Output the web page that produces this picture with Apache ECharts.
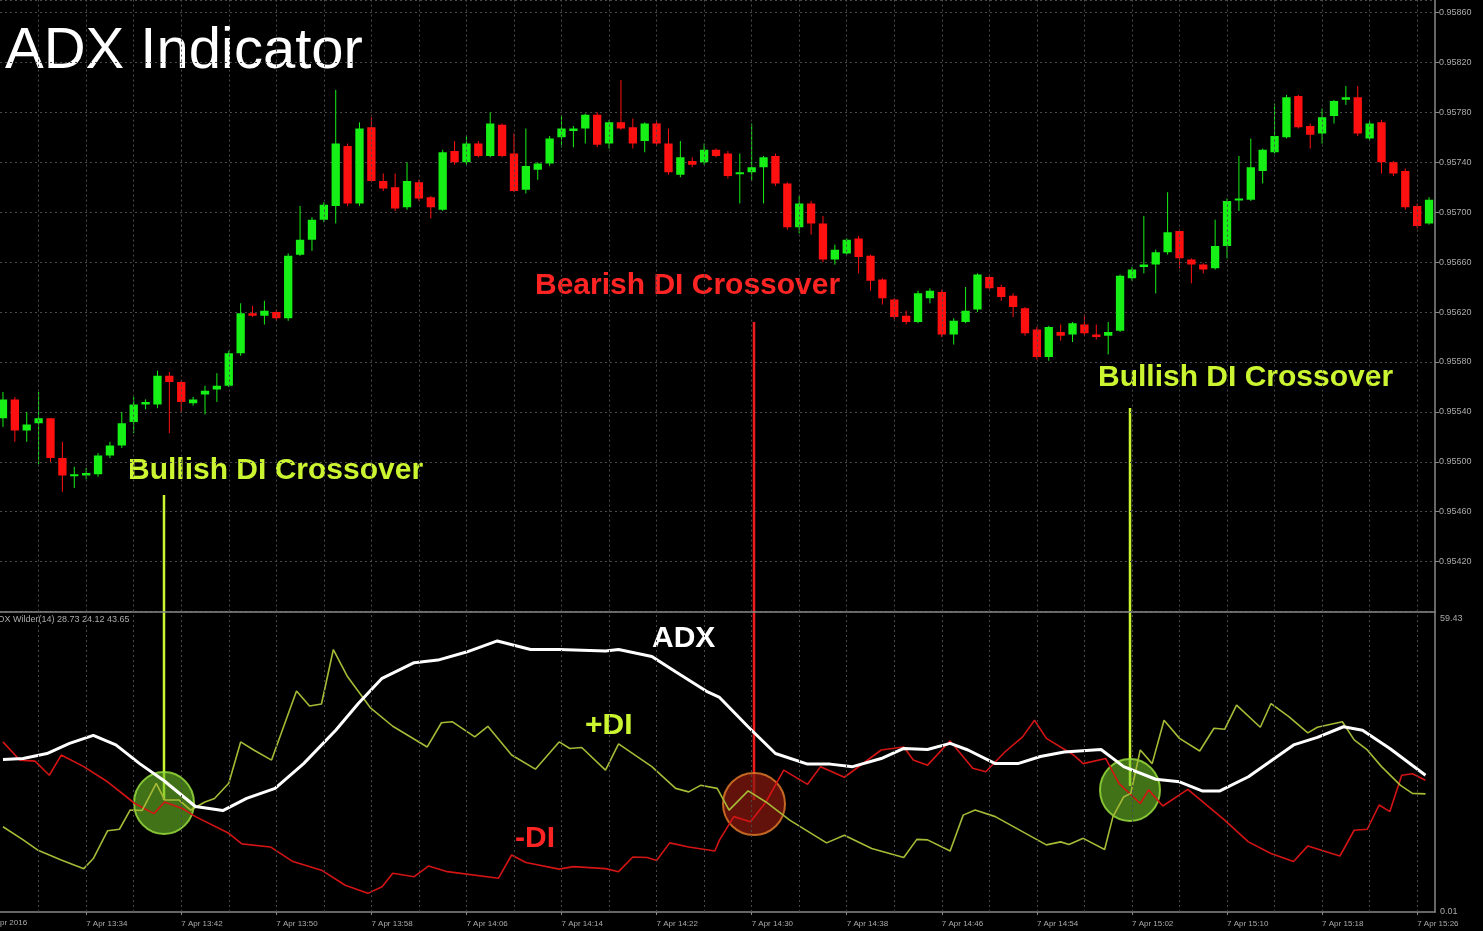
<!DOCTYPE html>
<html><head><meta charset="utf-8">
<script src="https://cdn.jsdelivr.net/npm/echarts@6/dist/echarts.min.js"></script>
<style>html,body{margin:0;padding:0;background:#000;}#c{width:1483px;height:931px;}</style>
</head><body><div id="c"></div>
<script>
const openP=[0.95535,0.95550,0.95525,0.95531,0.95535,0.95503,0.95489,0.95489,0.95490,0.95505,0.95513,0.95532,0.95546,0.95546,0.95569,0.95564,0.95547,0.95554,0.95558,0.95561,0.95587,0.95619,0.95617,0.95620,0.95615,0.95666,0.95678,0.95694,0.95705,0.95753,0.95707,0.95768,0.95725,0.95720,0.95704,0.95724,0.95712,0.95702,0.95749,0.95740,0.95755,0.95745,0.95770,0.95747,0.95718,0.95734,0.95739,0.95760,0.95765,0.95767,0.95778,0.95755,0.95772,0.95768,0.95757,0.95771,0.95755,0.95730,0.95741,0.95740,0.95750,0.95747,0.95731,0.95732,0.95736,0.95745,0.95723,0.95688,0.95707,0.95691,0.95662,0.95667,0.95679,0.95665,0.95646,0.95630,0.95617,0.95612,0.95631,0.95636,0.95602,0.95612,0.95622,0.95648,0.95640,0.95633,0.95623,0.95606,0.95584,0.95604,0.95602,0.95610,0.95602,0.95601,0.95605,0.95647,0.95656,0.95658,0.95668,0.95685,0.95662,0.95658,0.95655,0.95673,0.95710,0.95710,0.95733,0.95748,0.95760,0.95793,0.95769,0.95763,0.95777,0.95790,0.95792,0.95759,0.95772,0.95740,0.95733,0.95705,0.95691];
const closeP=[0.95550,0.95525,0.95530,0.95535,0.95503,0.95489,0.95490,0.95491,0.95505,0.95513,0.95531,0.95546,0.95548,0.95569,0.95564,0.95548,0.95550,0.95557,0.95561,0.95587,0.95619,0.95617,0.95621,0.95615,0.95665,0.95678,0.95694,0.95706,0.95755,0.95707,0.95767,0.95725,0.95719,0.95703,0.95725,0.95711,0.95704,0.95748,0.95740,0.95755,0.95745,0.95771,0.95745,0.95717,0.95737,0.95739,0.95759,0.95767,0.95767,0.95778,0.95754,0.95772,0.95767,0.95755,0.95771,0.95755,0.95732,0.95744,0.95738,0.95750,0.95745,0.95729,0.95732,0.95736,0.95744,0.95723,0.95688,0.95707,0.95691,0.95662,0.95670,0.95678,0.95664,0.95645,0.95631,0.95616,0.95612,0.95635,0.95637,0.95602,0.95613,0.95621,0.95650,0.95639,0.95632,0.95624,0.95603,0.95584,0.95608,0.95601,0.95611,0.95603,0.95600,0.95604,0.95649,0.95654,0.95658,0.95668,0.95684,0.95663,0.95658,0.95654,0.95673,0.95709,0.95711,0.95736,0.95750,0.95761,0.95792,0.95768,0.95762,0.95776,0.95789,0.95792,0.95763,0.95771,0.95740,0.95731,0.95704,0.95689,0.95710];
const lowP=[0.95528,0.95516,0.95516,0.95498,0.95500,0.95476,0.95479,0.95486,0.95488,0.95503,0.95511,0.95523,0.95542,0.95543,0.95523,0.95540,0.95545,0.95538,0.95548,0.95560,0.95585,0.95616,0.95610,0.95613,0.95613,0.95665,0.95669,0.95692,0.95691,0.95705,0.95705,0.95724,0.95717,0.95701,0.95702,0.95709,0.95695,0.95701,0.95738,0.95738,0.95744,0.95744,0.95744,0.95716,0.95715,0.95726,0.95737,0.95752,0.95752,0.95755,0.95752,0.95751,0.95766,0.95751,0.95748,0.95753,0.95730,0.95728,0.95736,0.95738,0.95744,0.95727,0.95707,0.95725,0.95707,0.95721,0.95686,0.95683,0.95682,0.95660,0.95658,0.95666,0.95651,0.95637,0.95626,0.95614,0.95610,0.95611,0.95627,0.95600,0.95594,0.95611,0.95620,0.95638,0.95629,0.95616,0.95601,0.95582,0.95581,0.95597,0.95596,0.95601,0.95598,0.95586,0.95604,0.95645,0.95651,0.95635,0.95666,0.95655,0.95643,0.95651,0.95654,0.95663,0.95701,0.95709,0.95723,0.95747,0.95759,0.95767,0.95751,0.95755,0.95771,0.95786,0.95761,0.95757,0.95731,0.95729,0.95702,0.95687,0.95690];
const highP=[0.95556,0.95552,0.95540,0.95556,0.95535,0.95516,0.95496,0.95495,0.95507,0.95516,0.95540,0.95552,0.95550,0.95573,0.95572,0.95565,0.95552,0.95561,0.95571,0.95589,0.95627,0.95625,0.95629,0.95622,0.95667,0.95705,0.95696,0.95708,0.95798,0.95755,0.95772,0.95776,0.95731,0.95731,0.95740,0.95726,0.95713,0.95750,0.95757,0.95761,0.95757,0.95780,0.95771,0.95763,0.95767,0.95740,0.95761,0.95778,0.95769,0.95779,0.95780,0.95774,0.95806,0.95775,0.95772,0.95773,0.95767,0.95757,0.95744,0.95755,0.95751,0.95749,0.95747,0.95771,0.95745,0.95747,0.95724,0.95713,0.95709,0.95697,0.95674,0.95679,0.95681,0.95666,0.95647,0.95631,0.95621,0.95637,0.95639,0.95638,0.95615,0.95640,0.95651,0.95650,0.95642,0.95635,0.95624,0.95608,0.95609,0.95610,0.95612,0.95618,0.95610,0.95612,0.95650,0.95656,0.95697,0.95670,0.95716,0.95686,0.95663,0.95659,0.95694,0.95711,0.95745,0.95759,0.95751,0.95787,0.95794,0.95794,0.95771,0.95783,0.95790,0.95801,0.95801,0.95773,0.95774,0.95741,0.95735,0.95707,0.95712];
const timeLabels=['7 Apr 13:34','7 Apr 13:42','7 Apr 13:50','7 Apr 13:58','7 Apr 14:06','7 Apr 14:14','7 Apr 14:22','7 Apr 14:30','7 Apr 14:38','7 Apr 14:46','7 Apr 14:54','7 Apr 15:02','7 Apr 15:10','7 Apr 15:18','7 Apr 15:26'];
const labelIdx=[7,15,23,31,39,47,55,63,71,79,87,95,103,111,119];
const gridIdx=[3,7,11,15,19,23,27,31,35,39,43,47,51,55,59,63,67,71,75,79,83,87,91,95,99,103,107,111,115,119];
const adx=[[0,30.2],[1.7,30.4],[3.7,31.4],[5.6,33.4],[7.6,35.0],[9.5,33.1],[11.5,29.4],[13.5,26.1],[16.2,20.9],[18.5,20.1],[20.5,22.5],[22.9,24.5],[25.3,29.4],[28.0,36.0],[29.9,41.3],[31.9,46.3],[34.6,49.4],[36.6,49.9],[39.0,51.5],[41.6,53.7],[44.4,52.0],[46.8,52.0],[50.7,51.7],[51.8,52.0],[54.6,50.6],[56.6,47.6],[59.3,43.6],[60.3,42.5],[62.7,36.7],[65.0,31.4],[67.7,29.3],[69.6,29.3],[71.5,28.8],[73.9,30.4],[75.8,32.4],[77.8,32.2],[79.7,33.4],[81.2,32.1],[83.5,29.4],[85.4,29.4],[87.3,30.8],[89.3,31.7],[92.4,32.2],[94.3,28.8],[97.0,26.3],[99.0,25.8],[100.9,24.0],[102.4,24.0],[104.8,26.8],[108.6,33.1],[110.6,34.6],[112.8,36.7],[114.4,36.0],[116.7,32.4],[119.7,27.1]];
const plusDI=[[0,16.9],[1.7,14.3],[2.9,12.3],[4.9,10.3],[6.8,8.6],[7.6,10.6],[8.8,16.1],[9.8,16.4],[10.7,20.2],[11.7,20.1],[12.9,25.5],[13.6,22.2],[14.8,22.2],[15.8,20.2],[17.0,21.8],[17.8,22.5],[19.0,25.5],[20.0,33.7],[21.1,32.1],[22.6,30.1],[24.7,43.8],[25.8,40.8],[26.8,41.2],[27.8,52.0],[29.0,46.6],[30.9,40.5],[32.8,36.8],[35.7,32.7],[36.9,37.5],[37.8,37.7],[39.7,34.7],[40.8,36.8],[42.8,31.1],[44.8,28.3],[46.8,33.7],[47.7,32.4],[48.7,32.6],[50.7,28.1],[51.8,33.3],[54.6,28.8],[56.6,24.5],[57.7,23.8],[58.7,25.1],[60.1,24.5],[61.1,20.2],[62.7,24.0],[64.2,21.8],[66.2,18.2],[69.3,13.7],[70.8,15.2],[73.1,12.6],[75.8,10.8],[76.9,14.4],[77.8,14.3],[79.7,12.1],[80.8,19.2],[81.8,20.2],[83.5,18.9],[87.8,13.3],[89.0,13.9],[89.7,13.4],[90.9,14.6],[92.7,12.4],[93.4,18.9],[94.3,22.8],[94.9,23.5],[95.7,32.1],[96.7,29.4],[97.7,38.0],[99.0,34.4],[100.7,31.9],[101.9,36.4],[102.8,36.2],[103.8,41.0],[105.8,36.6],[106.7,41.3],[108.2,38.7],[109.8,35.5],[110.6,36.6],[112.7,37.7],[113.7,34.1],[114.8,32.1],[116.0,28.8],[117.6,25.1],[118.6,23.5],[119.7,23.4]];
const minusDI=[[0,33.7],[1.4,30.1],[2.7,29.9],[3.9,27.1],[4.9,31.1],[6.8,28.8],[8.8,25.8],[11.1,21.5],[12.7,19.5],[13.6,21.8],[15.1,20.5],[16.2,18.9],[19.0,15.6],[20.1,13.5],[22.5,12.9],[24.4,10.0],[26.8,8.3],[28.8,5.3],[30.7,3.7],[31.9,5.0],[32.8,7.7],[34.6,7.0],[35.8,9.1],[37.4,8.0],[41.7,6.7],[42.8,11.3],[44.0,9.8],[46.8,8.5],[48.0,9.0],[50.7,8.6],[51.8,8.0],[53.0,10.9],[54.2,10.8],[55.0,10.2],[56.1,13.7],[57.7,12.9],[59.9,12.1],[60.3,14.3],[61.5,18.9],[62.9,17.9],[64.2,21.8],[65.7,28.1],[67.7,25.3],[68.8,28.8],[70.8,26.7],[73.9,32.1],[75.8,32.7],[76.6,30.1],[77.8,29.1],[79.7,33.9],[81.6,28.5],[82.7,27.8],[84.3,31.7],[85.8,34.7],[86.8,38.0],[87.8,34.4],[90.1,31.1],[90.9,29.4],[92.8,30.4],[93.9,25.5],[95.7,21.5],[96.4,24.2],[97.6,21.0],[99.7,24.3],[102.8,18.2],[104.8,13.9],[106.7,11.6],[108.6,10.0],[109.8,13.1],[112.5,11.1],[113.7,16.2],[114.8,16.4],[115.8,21.2],[116.7,19.9],[117.7,27.1],[118.6,27.4],[119.7,26.1]];

const candles=openP.map((o,i)=>[i,o,closeP[i],lowP[i],highP[i]]);
const chart=echarts.init(document.getElementById('c'));
const FF='Liberation Sans, Arial, sans-serif';
const gridLine={show:true,lineStyle:{color:'#4a4a4a',type:[2,3],width:1}};
const vLines=gridIdx.map(v=>({xAxis:v}));
const vMark={silent:true,symbol:'none',label:{show:false},lineStyle:{color:'#4a4a4a',type:[2,3],width:1},data:vLines};
chart.setOption({
  backgroundColor:'#000',animation:false,
  grid:[{left:0,right:48,top:-4.6,height:616.2},{left:0,right:48,top:612,height:300}],
  xAxis:[
    {type:'value',gridIndex:0,min:-0.25,max:120.5,axisLabel:{show:false},axisTick:{show:false},splitLine:{show:false},
     axisLine:{show:true,onZero:false,lineStyle:{color:'#888',width:1.5}}},
    {type:'value',gridIndex:1,min:-0.25,max:120.5,splitLine:{show:false},
     axisLine:{show:true,onZero:false,lineStyle:{color:'#888',width:1.5}},
     axisTick:{show:true,length:3,customValues:labelIdx,lineStyle:{color:'#888'}},
     axisLabel:{show:true,color:'#aaa',fontSize:8,fontFamily:FF,align:'left',margin:8,customValues:labelIdx,
       formatter:v=>timeLabels[labelIdx.indexOf(Math.round(v))]||''}}
  ],
  yAxis:[
    {gridIndex:0,position:'right',min:0.95380,max:0.95870,interval:0.0004,
     axisLine:{show:true,onZero:false,lineStyle:{color:'#888',width:1.5}},axisTick:{show:true,length:4,lineStyle:{color:'#888'}},
     axisLabel:{color:'#aaa',fontSize:9,fontFamily:FF,margin:4,showMinLabel:false,showMaxLabel:false,formatter:v=>v.toFixed(5)},
     splitLine:gridLine},
    {gridIndex:1,position:'right',min:0.01,max:59.43,interval:59.42,
     axisLine:{show:true,onZero:false,lineStyle:{color:'#888',width:1.5}},axisTick:{show:false},axisLabel:{show:false},splitLine:{show:false}}
  ],
  series:[
    {type:'custom',xAxisIndex:0,yAxisIndex:0,data:candles,clip:true,markLine:vMark,
     renderItem:(params,api)=>{
       const x=api.value(0),o=api.value(1),c=api.value(2),l=api.value(3),h=api.value(4);
       const po=api.coord([x,o]),pc=api.coord([x,c]),pl=api.coord([x,l]),ph=api.coord([x,h]);
       const w=api.size([1,0])[0]*0.7;
       const col=c>=o?'#16f016':'#ff1010';
       const top=Math.min(po[1],pc[1]),bh=Math.max(Math.abs(po[1]-pc[1]),2);
       return {type:'group',children:[
         {type:'line',shape:{x1:pl[0],y1:pl[1],x2:ph[0],y2:ph[1]},style:{stroke:col,lineWidth:1}},
         {type:'rect',shape:{x:po[0]-w/2,y:top,width:w,height:bh},style:{fill:col}}
       ]};
     }},
    {type:'line',xAxisIndex:1,yAxisIndex:1,data:minusDI,symbol:'none',lineStyle:{color:'#d41414',width:1.6},markLine:vMark},
    {type:'line',xAxisIndex:1,yAxisIndex:1,data:plusDI,symbol:'none',lineStyle:{color:'#a6ba36',width:1.6}},
    {type:'line',xAxisIndex:1,yAxisIndex:1,data:adx,symbol:'none',lineStyle:{color:'#ffffff',width:3}}
  ],
  graphic:[
    {type:'text',x:5,y:23,style:{text:'ADX Indicator',fill:'#fff',font:'58px '+FF}},
    {type:'text',x:-8,y:615,style:{text:'ADX Wilder(14) 28.73 24.12 43.65',fill:'#aaa',font:'9px '+FF}},
    {type:'text',x:-12,y:919,style:{text:'7 Apr 2016',fill:'#aaa',font:'8px '+FF}},
    {type:'text',x:1440,y:614,style:{text:'59.43',fill:'#aaa',font:'9px '+FF}},
    {type:'text',x:1440,y:907,style:{text:'0.01',fill:'#aaa',font:'9px '+FF}},
    {type:'line',shape:{x1:164,y1:495,x2:164,y2:800},style:{stroke:'#ccf531',lineWidth:2.5}},
    {type:'line',shape:{x1:754,y1:322,x2:754,y2:800},style:{stroke:'#ee1c1c',lineWidth:2.5}},
    {type:'line',shape:{x1:1130,y1:408,x2:1130,y2:786},style:{stroke:'#ccf531',lineWidth:2.5}},
    {type:'ellipse',shape:{cx:164,cy:803,rx:30,ry:31},style:{fill:'rgba(110,190,40,0.6)',stroke:'rgba(150,220,60,0.85)',lineWidth:2}},
    {type:'ellipse',shape:{cx:754,cy:804,rx:31,ry:31},style:{fill:'rgba(140,25,15,0.7)',stroke:'rgba(220,120,40,0.85)',lineWidth:2}},
    {type:'ellipse',shape:{cx:1130,cy:790,rx:30,ry:31},style:{fill:'rgba(110,190,40,0.6)',stroke:'rgba(150,220,60,0.85)',lineWidth:2}},
    {type:'text',x:128,y:456,style:{text:'Bullish DI Crossover',fill:'#ccf531',font:'bold 30px '+FF}},
    {type:'text',x:535,y:271,style:{text:'Bearish DI Crossover',fill:'#ff2424',font:'bold 30px '+FF}},
    {type:'text',x:1098,y:363,style:{text:'Bullish DI Crossover',fill:'#ccf531',font:'bold 30px '+FF}},
    {type:'text',x:652,y:624,style:{text:'ADX',fill:'#fff',font:'bold 30px '+FF}},
    {type:'text',x:585,y:711,style:{text:'+DI',fill:'#ccf531',font:'bold 30px '+FF}},
    {type:'text',x:515,y:824,style:{text:'-DI',fill:'#ff2424',font:'bold 30px '+FF}}
  ]
});
</script></body></html>
